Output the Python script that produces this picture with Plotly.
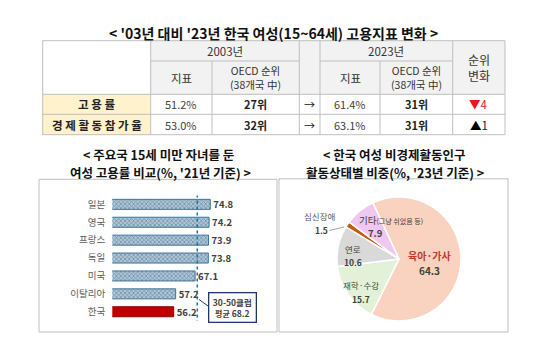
import plotly.graph_objects as go

W, H = 559, 351
FONT = "Noto Sans CJK KR"

# ---------------- data ----------------
table_title = "< '03년 대비 '23년 한국 여성(15~64세) 고용지표 변화 >"
years = ["2003년", "2023년"]
col_heads = ["지표", "OECD 순위<br>(38개국 中)"]
rank_head = "순위<br>변화"
indicators = ["고 용 률", "경 제 활 동 참 가 율"]
rate_2003 = [51.2, 53.0]
rank_2003 = [27, 32]
rate_2023 = [61.4, 63.1]
rank_2023 = [31, 31]

bar_title = ["< 주요국 15세 미만 자녀를 둔", "여성 고용률 비교(%, '21년 기준) >"]
countries = ["일본", "영국", "프랑스", "독일", "미국", "이탈리아", "한국"]
emp_rate = [74.8, 74.2, 73.9, 73.8, 67.1, 57.2, 56.2]
club_label = "30-50클럽"
club_avg = 68.2

pie_title = ["< 한국 여성 비경제활동인구", "활동상태별 비중(%, '23년 기준) >"]
pie_labels = ["육아·가사", "재학·수강", "연로", "심신장애", "기타"]
pie_notes = ["", "", "", "", "(그냥 쉬었음 등)"]
pie_values = [64.3, 15.7, 10.6, 1.5, 7.9]
pie_colors = ["#F9D3BF", "#E3F1D9", "#D9D9D9", "#C55A11", "#EFC7F0"]


def X(px):
    return px / W


def Y(py):
    return 1 - py / H


shapes = []
annotations = []


def rect(x0, y0, x1, y1, fill=None, line=None, lw=1):
    shapes.append(dict(type="rect", xref="paper", yref="paper",
                       x0=X(x0), x1=X(x1), y0=Y(y1), y1=Y(y0),
                       fillcolor=fill if fill else "rgba(0,0,0,0)",
                       line=dict(color=line if line else "rgba(0,0,0,0)", width=lw),
                       layer="below"))


def hline(x0, x1, y, color="#BFBFBF", lw=1):
    shapes.append(dict(type="line", xref="paper", yref="paper",
                       x0=X(x0), x1=X(x1), y0=Y(y), y1=Y(y),
                       line=dict(color=color, width=lw)))


def vline(x, y0, y1, color="#BFBFBF", lw=1):
    shapes.append(dict(type="line", xref="paper", yref="paper",
                       x0=X(x), x1=X(x), y0=Y(y0), y1=Y(y1),
                       line=dict(color=color, width=lw)))


def text(px, py, s, size=11, color="#404040", bold=False, xanchor="center"):
    annotations.append(dict(xref="paper", yref="paper", x=X(px), y=Y(py),
                            text=f"<b>{s}</b>" if bold else s, showarrow=False,
                            xanchor=xanchor, yanchor="middle",
                            font=dict(family=FONT, size=size, color=color)))


# ---------------- table (layout grid) ----------------
cx = [42.7, 150.7, 212, 299.3, 320, 380, 452.7, 505]
ry = [40.7, 61, 94.3, 114.3, 134.7]
grid = "#BFBFBF"

text(273.5, 33, table_title, size=14, color="#111111", bold=True)
rect(cx[1], ry[0], cx[-1], ry[2], fill="#F2F2F2")
rect(cx[0], ry[2], cx[1], ry[-1], fill="#FFF2CC")
for yy in [ry[0], ry[2], ry[3], ry[4]]:
    hline(cx[0], cx[-1], yy, grid)
hline(cx[1], cx[3], ry[1], grid)
hline(cx[4], cx[6], ry[1], grid)
for i, xx in enumerate(cx):
    if i in (2, 5):
        vline(xx, ry[1], ry[-1], grid)
    else:
        vline(xx, ry[0], ry[-1], grid)


def mid(a, b):
    return (a + b) / 2


ymid_h1 = mid(ry[0], ry[1])
ymid_h2 = mid(ry[1], ry[2])
for k, base in enumerate([1, 4]):
    text(mid(cx[base], cx[base + 2]), ymid_h1, years[k], size=11.5, color="#333333")
    text(mid(cx[base], cx[base + 1]), ymid_h2, col_heads[0], size=11.5, color="#333333")
    text(mid(cx[base + 1], cx[base + 2]), ymid_h2, col_heads[1], size=10.5, color="#333333")
text(mid(cx[6], cx[7]), mid(ry[0], ry[2]), rank_head, size=12, color="#333333")

for r in range(2):
    yy = mid(ry[2 + r], ry[3 + r])
    text(mid(cx[0], cx[1]), yy, indicators[r], size=11.5, color="#222222", bold=True)
    text(mid(cx[1], cx[2]), yy, f"{rate_2003[r]:.1f}%", size=11, color="#404040")
    text(mid(cx[2], cx[3]), yy, f"{rank_2003[r]}위", size=11, color="#222222", bold=True)
    text(mid(cx[3], cx[4]), yy, "→", size=11, color="#222222")
    text(mid(cx[4], cx[5]), yy, f"{rate_2023[r]:.1f}%", size=11, color="#404040")
    text(mid(cx[5], cx[6]), yy, f"{rank_2023[r]}위", size=11, color="#222222", bold=True)
    d = rank_2023[r] - rank_2003[r]
    if d > 0:
        s = f"<span style='color:#E8191C'>▼</span><span style='color:#E8191C'>{d}</span>"
    else:
        s = f"<span style='color:#000000'>▲</span><span style='color:#222222'>{-d}</span>"
    text(mid(cx[6], cx[7]), yy, s, size=11.5)

# ---------------- panel frames ----------------
rect(39, 179.3, 277, 332, line="#BFBFBF", lw=1)
rect(279, 178.8, 508, 332, line="#BFBFBF", lw=1)

text(158, 154.8, bar_title[0], size=12.5, color="#111111", bold=True)
text(160, 172.6, bar_title[1], size=12.5, color="#111111", bold=True)
text(393.5, 154.8, pie_title[0], size=12.5, color="#111111", bold=True)
text(394.5, 172.6, pie_title[1], size=12.5, color="#111111", bold=True)

# ---------------- bar chart ----------------
n = len(countries)
is_korea = [c == "한국" for c in countries]
bar = go.Bar(
    x=emp_rate, y=countries, orientation="h",
    marker=dict(
        color=["#C00000" if k else "#A9C8DD" for k in is_korea],
        line=dict(color=["#8B0000" if k else "#3F7398" for k in is_korea], width=1),
        pattern=dict(shape=["" if k else "x" for k in is_korea],
                     fgcolor="#4A7FA3", size=3, solidity=0.4),
    ),
    text=[f"{v:.1f}" for v in emp_rate], textposition="outside",
    constraintext="none",
    textfont=dict(family=FONT, size=9.5, color="#404040", weight="bold"),
    cliponaxis=False, xaxis="x", yaxis="y", hoverinfo="skip",
)

x_lo, x_hi = 25, 80
bar_dom_x = [X(112.3), X(220.5)]
bar_dom_y = [Y(320.7), Y(195.4)]

shapes.append(dict(type="line", xref="x", yref="y", x0=club_avg, x1=club_avg,
                   y0=-0.55, y1=n - 0.45,
                   line=dict(color="#2B6F97", width=1.5, dash="dot")))
shapes.append(dict(type="line", xref="paper", yref="paper",
                   x0=X(199), y0=Y(299.5), x1=X(209), y1=Y(306.7),
                   line=dict(color="#1F3864", width=1)))
annotations.append(dict(
    xref="paper", yref="paper", x=X(232.5), y=Y(307.3), xanchor="center", yanchor="middle",
    text=f"<b>{club_label}</b><br><b><span style='font-size:8px'>평균</span> {club_avg}</b>",
    showarrow=False, bordercolor="#1F3864", borderwidth=1.3, borderpad=1,
    bgcolor="white", width=44, height=26,
    font=dict(family=FONT, size=8.5, color="#404040")))

# ---------------- pie ----------------
pcx, pcy, pr = 399, 259, 62
pie = go.Pie(
    labels=pie_labels, values=pie_values, sort=False, direction="clockwise",
    rotation=-25, marker=dict(colors=pie_colors, line=dict(color="white", width=1.5)),
    textinfo="none", hoverinfo="skip", showlegend=False,
    domain=dict(x=[X(pcx - pr), X(pcx + pr)], y=[Y(pcy + pr), Y(pcy - pr)]),
)

# label placements (text layout): label centre, value centre, colour, bold, size
lab_pos = {
    "육아·가사": ((429.3, 255.5), (429.3, 270.5), "#C0392B", True, 10),
    "재학·수강": ((360.5, 285.3), (361.3, 298.7), "#3F4F36", False, 8.5),
    "연로": ((353, 249), (353, 262.3), "#404040", False, 8.5),
    "심신장애": ((319.5, 216.3), (321, 229.7), "#595959", False, 8.5),
    "기타": ((356.7, 219.5), (375.3, 233), "#404040", False, 9.5),
}
for lab, note, val in zip(pie_labels, pie_notes, pie_values):
    (lx, ly), (vx, vy), col, b, sz = lab_pos[lab]
    if note:
        text(lx, ly, f"{lab}<span style='font-size:7px'>{note}</span>",
             size=sz, color=col, xanchor="left")
    else:
        text(lx, ly, lab, size=sz, color=col, bold=b)
    text(vx, vy, f"<b>{val}</b>", size=sz, color="#404040")

shapes.append(dict(type="line", xref="paper", yref="paper",
                   x0=X(329), y0=Y(230.5), x1=X(344), y1=Y(227),
                   line=dict(color="#A6A6A6", width=1)))

fig = go.Figure([bar, pie])
fig.update_layout(
    width=W, height=H, margin=dict(l=0, r=0, t=0, b=0),
    paper_bgcolor="white", plot_bgcolor="rgba(0,0,0,0)",
    showlegend=False, bargap=0.44,
    xaxis=dict(domain=bar_dom_x, range=[x_lo, x_hi], visible=False, fixedrange=True),
    yaxis=dict(domain=bar_dom_y, type="category", categoryorder="array",
               categoryarray=countries, range=[n - 0.5, -0.5],
               showgrid=False, zeroline=False, showline=False, ticks="",
               ticklabelstandoff=6,
               tickfont=dict(family=FONT, size=9.5, color="#595959")),
    shapes=shapes, annotations=annotations,
    font=dict(family=FONT),
)
fig.write_html("out.html")
